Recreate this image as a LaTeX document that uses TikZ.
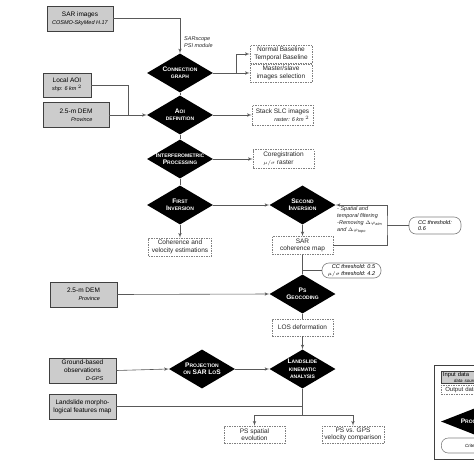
\documentclass[tikz,border=0pt]{standalone}
\usepackage{fontspec}
\setmainfont{Liberation Sans}
\usetikzlibrary{arrows,shapes.geometric}

\definecolor{linegray}{rgb}{0.35,0.35,0.35}
\definecolor{inputfill}{rgb}{0.80,0.80,0.80}
\definecolor{boxline}{rgb}{0.25,0.25,0.25}
\definecolor{dashline}{rgb}{0.50,0.50,0.50}

% fake small caps for the process labels
\newcommand{\capsc}[2]{#1{\fontsize{5}{6}\selectfont #2}}

\begin{document}
\begin{tikzpicture}[x=1pt, y=-1pt,
            flow/.style={draw=linegray, line width=0.6pt},
            inputbox/.style={draw=boxline, fill=inputfill, line width=0.9pt, minimum width=66,
                minimum height=25, inner sep=1pt, align=center, font=\fontsize{6.5}{8}\selectfont},
            outbox/.style={draw=dashline, dash pattern=on 1.5pt off 1pt, fill=white, line width=0.6pt,
                minimum width=61, minimum height=18, inner sep=1pt, align=center,
                text=black!85, font=\fontsize{6.5}{7.5}\selectfont},
            criteria/.style={draw=dashline, fill=white, rounded corners=7pt, line width=0.6pt,
                inner sep=1pt, align=center, font=\itshape\fontsize{5.5}{6.5}\selectfont},
            process/.style={diamond, fill=black, minimum width=66, minimum height=39, inner sep=0pt},
            proctext/.style={text=white, align=center, font=\bfseries\fontsize{6.6}{7.3}\selectfont},
            note/.style={align=left, inner sep=0pt, text=black!85, font=\itshape\fontsize{5.5}{7}\selectfont},
            >=latex']
    \clip (0,0) rectangle (474,474);
    \fill[white] (0,0) rectangle (474,474);

    % input data
    \node[inputbox] (sar) at (80,18.5) {SAR images\\\mbox{}\hfill\textit{\fontsize{5.5}{6}\selectfont COSMO-SkyMed H.17}};
    \node[inputbox, minimum width=48, minimum height=24] (aoi) at (67,85) {Local AOI\\\textit{\fontsize{5.5}{6}\selectfont shp: 6 km $^2$}};
    \node[inputbox] (dem) at (76,115) {2.5-m DEM\\\mbox{}\hfill\textit{\fontsize{5.5}{6}\selectfont Province}};
    \node[inputbox, minimum width=67] (dem2) at (83.5,294.5) {2.5-m DEM\\\mbox{}\hfill\textit{\fontsize{5.5}{6}\selectfont Province}};
    \node[inputbox, minimum width=67] (gps) at (82.5,370.5) {Ground-based\\observations\\\mbox{}\hfill\textit{\fontsize{5.5}{6}\selectfont D-GPS}};
    \node[inputbox, minimum width=67] (morph) at (82.5,406.5) {Landslide morpho-\\logical features map};

    % processing steps
    \node[process, label={[proctext]center:{\capsc{C}{ONNECTION}\\\capsc{}{GRAPH}}}] (graph) at (180,73) {};
    \node[process, label={[proctext]center:{\capsc{A}{OI}\\\capsc{}{DEFINITION}}}] (aoidef) at (180,115) {};
    \node[process, label={[proctext]center:{\capsc{I}{NTERFEROMETRIC}\\\capsc{P}{ROCESSING}}}] (interf) at (180,159) {};
    \node[process, label={[proctext]center:{\capsc{F}{IRST}\\\capsc{I}{NVERSION}}}] (inv1) at (180,205) {};
    \node[process, label={[proctext]center:{\capsc{S}{ECOND}\\\capsc{I}{NVERSION}}}] (inv2) at (302.5,205) {};
    \node[process, label={[proctext]center:{\capsc{P}{S}\\\capsc{G}{EOCODING}}}] (geo) at (302.5,294) {};
    \node[process, label={[proctext]center:{\capsc{P}{ROJECTION}\\\capsc{}{ON} \capsc{SAR L}{O}\capsc{S}{}}}] (proj) at (202,369) {};
    \node[process, label={[proctext]center:{\capsc{L}{ANDSLIDE}\\\capsc{}{KINEMATIC}\\\capsc{}{ANALYSIS}}}] (kin) at (302.5,369) {};

    % output data
    \node[outbox, minimum width=62] (base) at (281,54) {Normal Baseline\\Temporal Baseline};
    \node[outbox, minimum width=62] (master) at (281,73) {Master/slave\\images selection};
    \node[outbox, minimum height=20] (stack) at (282.5,115) {Stack SLC images\\\mbox{}\hfill\textit{\fontsize{5.5}{6}\selectfont raster: 6 km $^2$}};
    \node[outbox, minimum height=19, align=left] (coreg) at (283.5,159) {Coregistration\\{\fontsize{5.5}{6}\selectfont$\mu/\sigma$} raster};
    \node[outbox, minimum width=63] (cohvel) at (180,247) {Coherence and\\velocity estimations};
    \node[outbox] (cohmap) at (302.5,245.5) {SAR\\coherence map};
    \node[outbox, minimum height=17] (los) at (302.5,327.5) {LOS deformation};
    \node[outbox, minimum height=17] (spatial) at (254.5,434.5) {PS spatial\\evolution};
    \node[outbox, minimum width=62, minimum height=17] (gpsvel) at (353,434.5) {PS vs. GPS\\velocity comparison};

    % criteria
    \node[criteria, minimum width=52, minimum height=17, align=left] (cc1) at (435,225.5) {CC threshold:\\0.6};
    \node[criteria, minimum width=59, minimum height=15, align=right] (cc2) at (351.5,270.5) {CC threshold: 0.5\\$\mu/\sigma$ threshold: 4.2};

    % notes
    \node[note, anchor=north west] (psi) at (184,36) {SARscope\\PSI module};
    \node[note, anchor=north west] (filt) at (337,206) {- Spatial and\\temporal filtering\\-Removing $\Delta\varphi_{\mathit{atm}}$\\and $\Delta\varphi_{\mathit{topo}}$};

    % connectors
    \draw[flow, ->] (sar.east) -| (graph.north);
    \draw[flow] (graph.east) -- ++(23,0) coordinate (split);
    \draw[flow, ->] (split) |- (base.west);
    \draw[flow, ->] (split) -- (master.west);
    \draw[flow] (graph.south) -- (aoidef.north);
    \coordinate (aoijoin) at (128,115);
    \draw[flow] (aoi.east) -| (aoijoin);
    \draw[flow, ->] (dem.east) -- (aoidef.west);
    \draw[flow, ->] (aoidef.east) -- (stack.west);
    \draw[flow] (aoidef.south) -- (interf.north);
    \draw[flow, ->] (interf.east) -- (coreg.west);
    \draw[flow] (interf.south) -- (inv1.north);
    \draw[flow, ->] (inv1.east) -- (inv2.west);
    \draw[flow, ->] (inv1.south) -- (cohvel.north);
    \draw[flow, ->] (inv2.south) -- (cohmap.north);
    \coordinate (loop) at (387,225.5);
    \draw[flow, ->] (cohmap.east) -| (loop) |- (inv2.east);
    \draw[flow] (cc1.west) -- (loop);
    \draw[flow] (cohmap.south) -- (geo.north);
    \coordinate (ccjoin) at (cohmap.south |- cc2.west);
    \draw[flow] (cc2.west) -- (ccjoin);
    \draw[flow, ->] (dem2.east) -- (geo.west);
    \draw[flow] (geo.south) -- (los.north);
    \draw[flow, ->] (los.south) -- (kin.north);
    \draw[flow, ->] (gps.east) -- (proj.west);
    \draw[flow, ->] (proj.east) -- (kin.west);
    \coordinate (fork) at (302.5,415);
    \draw[flow] (kin.south) -- (fork);
    \draw[flow] (morph.east) -- (morph.east -| fork);
    \draw[flow, ->] (fork) -| (spatial.north);
    \draw[flow, ->] (fork) -| (gpsvel.north);

    % legend
    \draw[draw=boxline, line width=0.9pt] (434,365) rectangle (520,459);
    \node[inputbox, text width=63, minimum height=11, anchor=west, align=left, inner sep=1.5pt,
          font=\fontsize{5.8}{5.5}\selectfont] (keyin) at (441,377.5) {Input data\\\hspace*{11pt}\textit{\fontsize{4.5}{5}\selectfont data source}};
    \node[outbox, text width=64, minimum height=9, anchor=west, align=left, inner sep=1pt,
          font=\fontsize{6}{6}\selectfont] (keyout) at (441,389.5) {\hspace*{3pt}Output data};
    \node[process, minimum width=74, minimum height=29,
          label={[proctext]center:{\capsc{P}{ROCESSING}}}] (keyproc) at (478,421.5) {};
    \node[criteria, minimum width=62, minimum height=15, anchor=west, font=\itshape\fontsize{4.5}{5}\selectfont] (keycrit) at (441,445.5) {Criteria};
\end{tikzpicture}
\end{document}
